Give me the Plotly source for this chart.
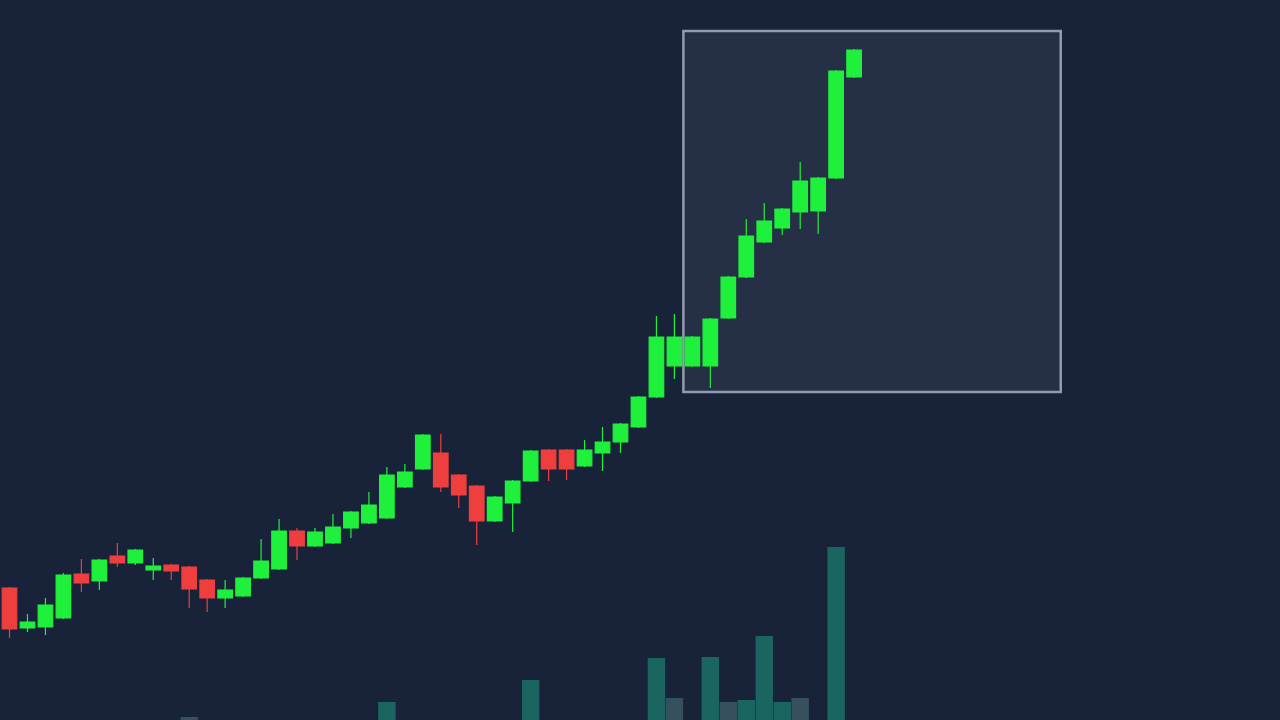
import plotly.graph_objects as go

# ---- data ----
idx = list(range(48))
opens = [132, 92, 93, 102, 146, 139, 164, 157, 150, 155, 153, 140, 122, 124, 142, 151,
         189, 174, 177, 192, 197, 202, 233, 251, 267, 245, 234, 199, 217, 239, 270, 270,
         254, 267, 278, 293, 323, 354, 354, 354, 402, 443, 478, 492, 508, 509, 542, 643]
highs = [133, 106, 122, 147, 161, 161, 177, 171, 162, 156, 154, 141, 140, 143, 181, 201,
         192, 192, 206, 209, 228, 253, 256, 286, 286, 246, 235, 224, 240, 270, 271, 271,
         280, 293, 297, 324, 404, 406, 384, 402, 444, 501, 517, 512, 558, 543, 650, 671]
lows = [82, 88, 85, 101, 128, 130, 153, 155, 140, 140, 112, 108, 112, 123, 141, 150,
        160, 173, 176, 182, 196, 201, 232, 250, 228, 212, 175, 198, 188, 238, 239, 240,
        253, 249, 267, 292, 322, 341, 353, 332, 401, 442, 477, 485, 491, 486, 541, 642]
closes = [91, 98, 115, 145, 137, 160, 157, 170, 154, 149, 131, 122, 130, 142, 159, 189,
          174, 188, 193, 208, 215, 245, 248, 285, 233, 225, 199, 223, 239, 269, 251, 251,
          270, 278, 296, 323, 383, 383, 383, 401, 443, 484, 499, 511, 539, 542, 649, 670]

volumes = [0, 0, 0, 0, 0, 0, 0, 0, 0, 0, 3, 0, 0, 0, 0, 0,
           0, 0, 0, 0, 0, 18, 0, 0, 0, 0, 0, 0, 0, 40, 0, 0,
           0, 0, 0, 0, 62, 22, 0, 63, 18, 20, 84, 18, 22, 0, 173, 0]
vol_muted = [0, 0, 0, 0, 0, 0, 0, 0, 0, 0, 1, 0, 0, 0, 0, 0,
             0, 0, 0, 0, 0, 0, 0, 0, 0, 0, 0, 0, 0, 0, 0, 0,
             0, 0, 0, 0, 0, 1, 0, 0, 1, 0, 0, 0, 1, 0, 0, 0]

# highlighted zone (candle index span and price span)
zone_x = [37.5, 58.5]
zone_y = [328, 689]

# ---- styles ----
BG = "#18233a"
GREEN = "#1ff03c"
RED = "#ef3e3e"
TEAL = "#1a6560"
GREY = "#37505d"
vol_colors = [GREY if m else TEAL for m in vol_muted]

fig = go.Figure()

fig.add_trace(go.Bar(
    x=idx, y=volumes, yaxis="y2",
    marker=dict(color=vol_colors, line=dict(width=0)),
    hoverinfo="skip",
))

fig.add_trace(go.Candlestick(
    x=idx, open=opens, high=highs, low=lows, close=closes,
    increasing=dict(fillcolor=GREEN, line=dict(color=GREEN, width=1.2)),
    decreasing=dict(fillcolor=RED, line=dict(color=RED, width=1.2)),
    whiskerwidth=0,
))

fig.add_shape(
    type="rect", xref="x", yref="y",
    x0=zone_x[0], x1=zone_x[1], y0=zone_y[0], y1=zone_y[1],
    fillcolor="rgba(255,255,255,0.06)",
    line=dict(color="rgba(185,195,210,0.75)", width=2.5),
    layer="below",
)

fig.update_layout(
    width=1280, height=720,
    margin=dict(l=0, r=0, t=0, b=0),
    paper_bgcolor=BG, plot_bgcolor=BG,
    showlegend=False,
    bargap=0.03,
    boxgap=0.1, boxgroupgap=0.1,
    xaxis=dict(range=[-0.529, 70.70], visible=False, showgrid=False,
               rangeslider=dict(visible=False), fixedrange=True),
    yaxis=dict(range=[0, 720], visible=False, showgrid=False, fixedrange=True),
    yaxis2=dict(range=[0, 720], visible=False, showgrid=False, overlaying="y",
                fixedrange=True),
)

fig.write_html(
    "out.html",
    config={"displayModeBar": False},
    post_script="document.body.style.margin='0';document.body.style.overflow='hidden';"
                "document.body.style.background='" + BG + "';",
)
